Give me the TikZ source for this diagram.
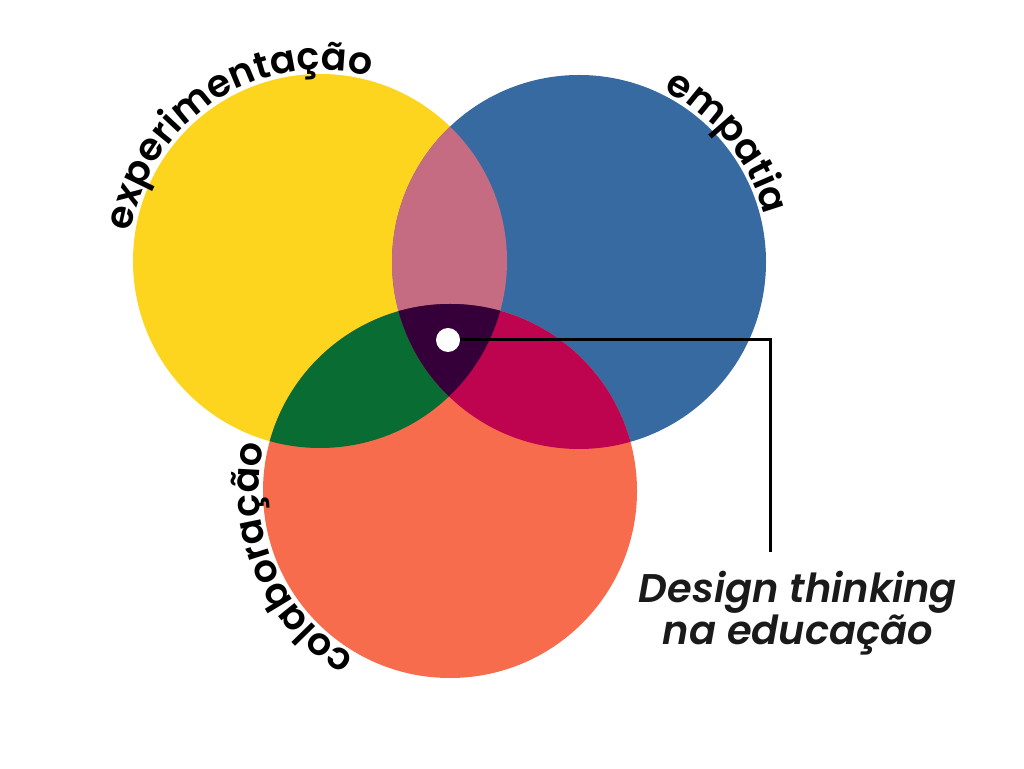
\documentclass[tikz,border=0pt]{standalone}
\usepackage{fontspec}
\setmainfont{Poppins}[UprightFont=* SemiBold, ItalicFont=* SemiBold Italic]
\usetikzlibrary{decorations.text,positioning}
\definecolor{amarelo}{HTML}{FDD41E}
\definecolor{azul}{HTML}{386AA2}
\definecolor{laranja}{HTML}{F76C4D}
\definecolor{rosa}{HTML}{C56B82}
\definecolor{verde}{HTML}{096C32}
\definecolor{magenta}{HTML}{BF044F}
\definecolor{roxo}{HTML}{35003A}
\definecolor{texto}{HTML}{1A1A1A}
\newcommand{\arcofont}{\fontsize{38}{44}\selectfont}
\tikzset{
  curvo/.style={decorate,decoration={text along path,text align=center,text={|\arcofont|#1}}},
  ponto/.style={circle,fill=white,inner sep=0pt,minimum size=24pt},
  rotulo/.style={font=\fontsize{40}{40}\selectfont\itshape,text=texto,align=center,inner sep=0pt}
}
\begin{document}
\begin{tikzpicture}[x=1pt,y=1pt]
\useasboundingbox (0,0) rectangle (1024,768);
% centros
\coordinate (cy) at (320,507);
\coordinate (cb) at (579,506);
\coordinate (co) at (450,277);
    \fill[amarelo] (cy) circle (187);
    \fill[azul] (cb) circle (187);
    \fill[laranja] (co) circle (187);
% intersecoes
\begin{scope}
    \clip (cy) circle (187);
    \fill[rosa] (cb) circle (187);
    \fill[verde] (co) circle (187);
\end{scope}
\begin{scope}
    \clip (cb) circle (187);
    \fill[magenta] (co) circle (187);
    \clip (cy) circle (187);
    \fill[roxo] (co) circle (187);
\end{scope}
% textos curvos
    \path[curvo={experimentação}] (cy) ++(172:191) arc[start angle=172,end angle=74,radius=191];
    \path[curvo={empatia}] (cb) ++(66:191) arc[start angle=66,end angle=12,radius=191];
    \path[curvo={colaboração}] (co) ++(240:191) arc[start angle=240,end angle=166,radius=191];
% centro
\node[ponto] (dt) at (448,428) {};
\coordinate (fim) at (770,216);
\node[rotulo,anchor=north] (legenda) at (798,197) {Design thinking\\na educação};
    \draw[line width=3pt] (dt.east) -| (fim);
\end{tikzpicture}
\end{document}
